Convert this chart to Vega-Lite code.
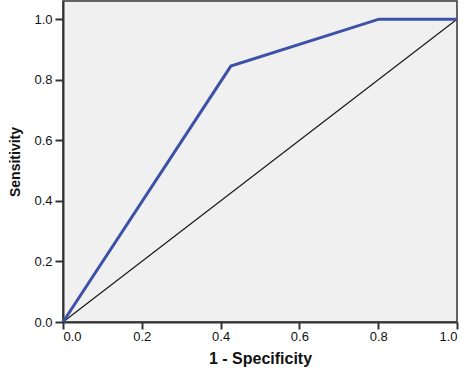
{
  "$schema": "https://vega.github.io/schema/vega-lite/v6.json",
  "width": 394,
  "height": 321,
  "autosize": {"type": "none"},
  "padding": {"left": 63, "top": 1, "right": 17, "bottom": 57},
  "background": "white",
  "config": {
    "view": {"fill": "#f0f0f0", "stroke": "#333333", "strokeWidth": 1.5},
    "font": "Liberation Sans"
  },
  "datasets": {
    "roc": [
      {"fpr": 0.0, "tpr": 0.0},
      {"fpr": 0.426, "tpr": 0.845},
      {"fpr": 0.802, "tpr": 1.0},
      {"fpr": 1.0, "tpr": 1.0}
    ],
    "ref": [
      {"fpr": 0.0, "tpr": 0.0},
      {"fpr": 1.0, "tpr": 1.0}
    ]
  },
  "layer": [
    {
      "data": {"name": "ref"},
      "mark": {"type": "line", "color": "#1a1a1a", "strokeWidth": 1.2},
      "encoding": {
        "x": {"field": "fpr", "type": "quantitative"},
        "y": {"field": "tpr", "type": "quantitative"}
      }
    },
    {
      "data": {"name": "roc"},
      "mark": {"type": "line", "color": "#3d51a6", "strokeWidth": 3},
      "encoding": {
        "x": {
          "field": "fpr", "type": "quantitative",
          "scale": {"domain": [0, 1], "nice": false, "zero": false},
          "axis": {
            "title": "1 - Specificity", "values": [0, 0.2, 0.4, 0.6, 0.8, 1.0],
            "format": ".1f", "grid": false, "domainColor": "#333333", "domainWidth": 2,
            "tickColor": "#333333", "tickSize": 7, "tickWidth": 2,
            "labelFontSize": 13, "labelColor": "#111111", "labelPadding": 1,
            "titleFontSize": 16, "titleFontWeight": "bold", "titleColor": "#111111", "titlePadding": 7
          }
        },
        "y": {
          "field": "tpr", "type": "quantitative",
          "scale": {"domain": [0, 1.06], "nice": false, "zero": false},
          "axis": {
            "title": "Sensitivity", "values": [0, 0.2, 0.4, 0.6, 0.8, 1.0],
            "format": ".1f", "grid": false, "domainColor": "#333333", "domainWidth": 2,
            "tickColor": "#333333", "tickSize": 8, "tickWidth": 2,
            "labelFontSize": 13, "labelColor": "#111111", "labelPadding": 3,
            "titleFontSize": 14, "titleFontWeight": "bold", "titleColor": "#111111", "titlePadding": 11
          }
        }
      }
    }
  ]
}
